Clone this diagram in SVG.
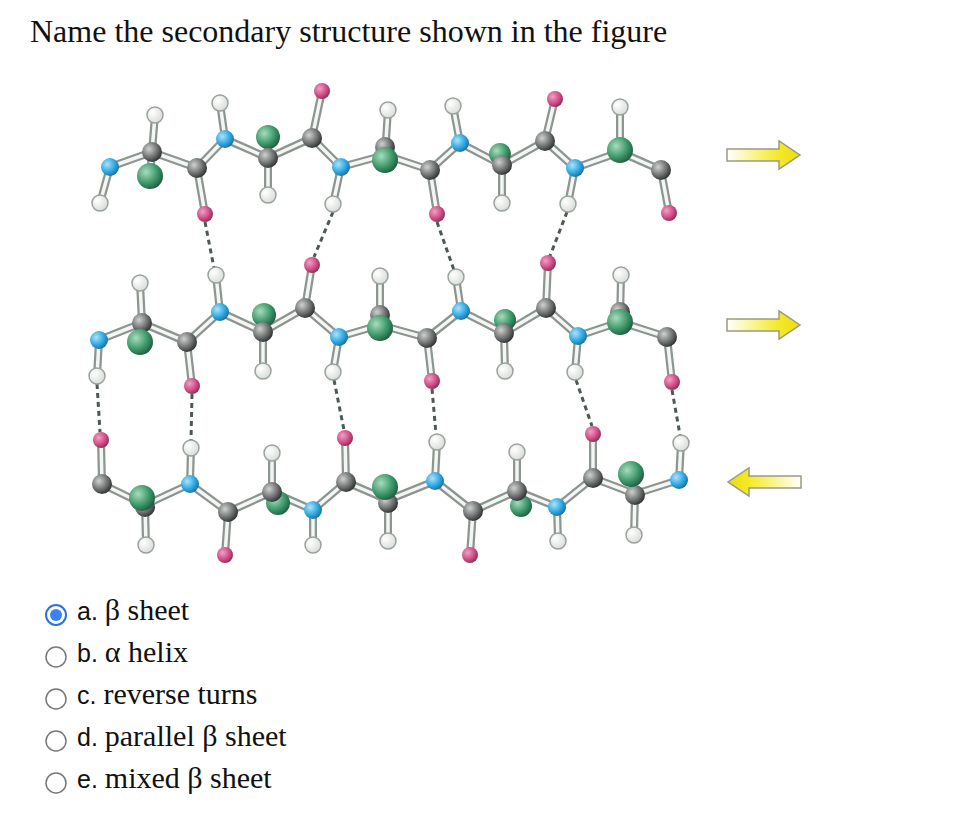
<svg xmlns="http://www.w3.org/2000/svg" width="978" height="822" viewBox="0 0 978 822">
<defs>
<radialGradient id="gH" cx="0.35" cy="0.35" r="0.7"><stop offset="0" stop-color="#fff"/><stop offset="1" stop-color="#d8dcd8"/></radialGradient>
<radialGradient id="gO" cx="0.35" cy="0.35" r="0.7"><stop offset="0" stop-color="#f2a0c4"/><stop offset="0.6" stop-color="#cf4f87"/><stop offset="1" stop-color="#8e2a58"/></radialGradient>
<radialGradient id="gN" cx="0.35" cy="0.35" r="0.7"><stop offset="0" stop-color="#a8e4ff"/><stop offset="0.6" stop-color="#31a8e0"/><stop offset="1" stop-color="#1a6f9e"/></radialGradient>
<radialGradient id="gC" cx="0.35" cy="0.35" r="0.7"><stop offset="0" stop-color="#d0d0d0"/><stop offset="0.6" stop-color="#6f7272"/><stop offset="1" stop-color="#2e3030"/></radialGradient>
<radialGradient id="gG" cx="0.35" cy="0.35" r="0.7"><stop offset="0" stop-color="#a8dcbc"/><stop offset="0.6" stop-color="#3f9a6c"/><stop offset="1" stop-color="#1f5e3e"/></radialGradient>
<linearGradient id="yR" x1="0" x2="1"><stop offset="0" stop-color="#fff"/><stop offset="0.7" stop-color="#f5ea2a"/><stop offset="1" stop-color="#eadc10"/></linearGradient>
<linearGradient id="yL" x1="1" x2="0"><stop offset="0" stop-color="#fff"/><stop offset="0.7" stop-color="#f5ea2a"/><stop offset="1" stop-color="#eadc10"/></linearGradient>
<path id="b1" d="M110,167 L152,152 L197,168 L225,139 L268,158 L312,138 L341,167 L385,155 L430,170 L460,143 L502,165 L545,141 L575,168 L620,152 L661,170 M110,167 L100,203 M152,152 L155,115 M152,152 L150,176 M197,168 L205,214 M225,139 L220,103 M268,158 L268,195 M268,158 L268,137 M312,138 L322,91 M341,167 L333,204 M385,155 L388,110 M430,170 L437,214 M460,143 L453,106 M502,165 L502,203 M545,141 L555,99 M575,168 L568,204 M620,152 L620,107 M661,170 L669,213"/>
<path id="b2" d="M99,340 L142,323 L187,342 L220,312 L263,332 L305,308 L339,337 L380,325 L427,338 L461,311 L504,333 L546,308 L578,336 L620,322 L667,337 M99,340 L97,376 M142,323 L140,283 M142,323 L140,342 M187,342 L192,386 M220,312 L216,275 M263,332 L263,371 M263,332 L264,315 M305,308 L312,265 M339,337 L333,372 M380,325 L380,276 M427,338 L432,381 M461,311 L456,277 M504,333 L505,371 M504,333 L505,320 M546,308 L548,263 M578,336 L575,372 M620,322 L621,275 M667,337 L672,382"/>
<path id="b3" d="M102,484 L145,505 L190,484 L228,512 L272,492 L313,510 L346,482 L388,500 L435,481 L473,511 L517,491 L557,507 L593,478 L635,494 L679,480 M102,484 L101,440 M145,505 L146,545 M190,484 L191,448 M228,512 L225,555 M272,492 L272,453 M272,492 L278,503 M313,510 L313,545 M346,482 L345,438 M388,500 L388,541 M435,481 L437,442 M473,511 L470,555 M517,491 L517,452 M517,491 L521,506 M557,507 L558,541 M593,478 L593,434 M635,494 L634,535 M679,480 L681,443"/>
</defs>
<style>
.bo{stroke:#8d9590;stroke-width:8;fill:none;stroke-linecap:round;stroke-linejoin:round}
.bi{stroke:#f4f6f4;stroke-width:3.5;fill:none;stroke-linecap:round;stroke-linejoin:round}
.hb{stroke:#4c5a52;stroke-width:3;stroke-dasharray:5 4;fill:none}
.H{fill:url(#gH);stroke:#9aa29c;stroke-width:1.5}
.O{fill:url(#gO)}
.N{fill:url(#gN)}
.C{fill:url(#gC)}
.G{fill:url(#gG)}
.t{font-family:"Liberation Serif",serif;fill:#111}
.s{font-family:"Liberation Sans",sans-serif}
.arr{stroke:#9a9a80;stroke-width:1.5}
</style>
<rect width="978" height="822" fill="#fff"/>
<text x="30" y="42" class="t" font-size="32">Name the secondary structure shown in the figure</text>

<g id="hbonds">
<path class="hb" d="M205,222 L214,268 M333,212 L314,257 M437,222 L454,270 M567,212 L550,256 M97,384 L100,432 M192,394 L191,440 M334,380 L344,430 M432,389 L436,434 M576,380 L592,426 M672,390 L680,435"/>
</g>

<g id="strand1">
<use href="#b1" class="bo"/>
<use href="#b1" class="bi"/>
<circle class="H" cx="100" cy="203" r="8"/><circle class="H" cx="155" cy="115" r="8"/><circle class="H" cx="220" cy="103" r="8"/><circle class="H" cx="268" cy="195" r="8"/><circle class="H" cx="333" cy="204" r="8"/><circle class="H" cx="388" cy="110" r="8"/><circle class="H" cx="453" cy="106" r="8"/><circle class="H" cx="502" cy="203" r="8"/><circle class="H" cx="568" cy="204" r="8"/><circle class="H" cx="620" cy="107" r="8"/>
<circle class="O" cx="205" cy="214" r="8"/><circle class="O" cx="322" cy="91" r="8"/><circle class="O" cx="437" cy="214" r="8"/><circle class="O" cx="555" cy="99" r="8"/><circle class="O" cx="669" cy="213" r="8"/>
<circle class="G" cx="268" cy="137" r="12"/><circle class="G" cx="500" cy="154" r="11"/><circle class="C" cx="385" cy="147" r="10"/>
<circle class="N" cx="110" cy="167" r="9"/><circle class="N" cx="225" cy="139" r="9"/><circle class="N" cx="341" cy="167" r="9"/><circle class="N" cx="460" cy="143" r="9"/><circle class="N" cx="575" cy="168" r="9"/>
<circle class="C" cx="152" cy="152" r="10"/><circle class="C" cx="197" cy="168" r="10"/><circle class="C" cx="268" cy="158" r="10"/><circle class="C" cx="312" cy="138" r="10"/><circle class="C" cx="430" cy="170" r="10"/><circle class="C" cx="502" cy="165" r="10"/><circle class="C" cx="545" cy="141" r="10"/><circle class="C" cx="661" cy="170" r="10"/>
<circle class="G" cx="150" cy="176" r="13"/><circle class="G" cx="385" cy="160" r="13"/><circle class="G" cx="620" cy="150" r="13"/>
</g>

<g id="strand2">
<use href="#b2" class="bo"/>
<use href="#b2" class="bi"/>
<circle class="H" cx="97" cy="376" r="8"/><circle class="H" cx="140" cy="283" r="8"/><circle class="H" cx="216" cy="275" r="8"/><circle class="H" cx="263" cy="371" r="8"/><circle class="H" cx="333" cy="372" r="8"/><circle class="H" cx="380" cy="276" r="8"/><circle class="H" cx="456" cy="277" r="8"/><circle class="H" cx="505" cy="371" r="8"/><circle class="H" cx="575" cy="372" r="8"/><circle class="H" cx="621" cy="275" r="8"/>
<circle class="O" cx="192" cy="386" r="8"/><circle class="O" cx="312" cy="265" r="8"/><circle class="O" cx="432" cy="381" r="8"/><circle class="O" cx="548" cy="263" r="8"/><circle class="O" cx="672" cy="382" r="8"/>
<circle class="G" cx="264" cy="315" r="12"/><circle class="G" cx="505" cy="320" r="11"/><circle class="C" cx="380" cy="315" r="10"/><circle class="C" cx="620" cy="312" r="10"/>
<circle class="N" cx="99" cy="340" r="9"/><circle class="N" cx="220" cy="312" r="9"/><circle class="N" cx="339" cy="337" r="9"/><circle class="N" cx="461" cy="311" r="9"/><circle class="N" cx="578" cy="336" r="9"/>
<circle class="C" cx="142" cy="323" r="10"/><circle class="C" cx="187" cy="342" r="10"/><circle class="C" cx="263" cy="332" r="10"/><circle class="C" cx="305" cy="308" r="10"/><circle class="C" cx="427" cy="338" r="10"/><circle class="C" cx="504" cy="333" r="10"/><circle class="C" cx="546" cy="308" r="10"/><circle class="C" cx="667" cy="337" r="10"/>
<circle class="G" cx="140" cy="342" r="13"/><circle class="G" cx="380" cy="328" r="13"/><circle class="G" cx="620" cy="322" r="13"/>
</g>

<g id="strand3">
<use href="#b3" class="bo"/>
<use href="#b3" class="bi"/>
<circle class="H" cx="146" cy="545" r="8"/><circle class="H" cx="191" cy="448" r="8"/><circle class="H" cx="272" cy="453" r="8"/><circle class="H" cx="313" cy="545" r="8"/><circle class="H" cx="388" cy="541" r="8"/><circle class="H" cx="437" cy="442" r="8"/><circle class="H" cx="517" cy="452" r="8"/><circle class="H" cx="558" cy="541" r="8"/><circle class="H" cx="634" cy="535" r="8"/><circle class="H" cx="681" cy="443" r="8"/>
<circle class="O" cx="101" cy="440" r="8"/><circle class="O" cx="225" cy="555" r="8"/><circle class="O" cx="345" cy="438" r="8"/><circle class="O" cx="470" cy="555" r="8"/><circle class="O" cx="593" cy="434" r="8"/>
<circle class="G" cx="278" cy="503" r="12"/><circle class="G" cx="521" cy="506" r="11"/>
<circle class="N" cx="190" cy="484" r="9"/><circle class="N" cx="313" cy="510" r="9"/><circle class="N" cx="435" cy="481" r="9"/><circle class="N" cx="557" cy="507" r="9"/><circle class="N" cx="679" cy="480" r="9"/>
<circle class="C" cx="102" cy="484" r="10"/><circle class="C" cx="145" cy="507" r="10"/><circle class="C" cx="228" cy="512" r="10"/><circle class="C" cx="272" cy="492" r="10"/><circle class="C" cx="346" cy="482" r="10"/><circle class="C" cx="388" cy="503" r="10"/><circle class="C" cx="473" cy="511" r="10"/><circle class="C" cx="517" cy="491" r="10"/><circle class="C" cx="593" cy="478" r="10"/><circle class="C" cx="635" cy="495" r="10"/>
<circle class="G" cx="142" cy="498" r="13"/><circle class="G" cx="385" cy="487" r="13"/><circle class="G" cx="631" cy="474" r="13"/>
</g>

<g id="arrows">
<path class="arr" fill="url(#yR)" d="M727,149 L779,149 L779,141 L800,155 L779,169 L779,161 L727,161 Z"/>
<path class="arr" fill="url(#yR)" d="M727,319 L779,319 L779,311 L800,325 L779,339 L779,331 L727,331 Z"/>
<path class="arr" fill="url(#yL)" d="M801,476 L749,476 L749,468 L728,482 L749,496 L749,488 L801,488 Z"/>
</g>

<g id="options">
<circle cx="56" cy="615" r="10" fill="#fff" stroke="#2f6fe0" stroke-width="2"/><circle cx="56" cy="615" r="6" fill="#3b82f6"/>
<circle cx="56" cy="657" r="10" fill="#fff" stroke="#777" stroke-width="1.5"/>
<circle cx="56" cy="699" r="10" fill="#fff" stroke="#777" stroke-width="1.5"/>
<circle cx="56" cy="741" r="10" fill="#fff" stroke="#777" stroke-width="1.5"/>
<circle cx="56" cy="783" r="10" fill="#fff" stroke="#777" stroke-width="1.5"/>
<text x="77" y="620" class="t" font-size="30"><tspan class="s" font-size="25">a. </tspan>β sheet</text>
<text x="77" y="662" class="t" font-size="30"><tspan class="s" font-size="25">b. </tspan>α helix</text>
<text x="77" y="704" class="t" font-size="30"><tspan class="s" font-size="25">c. </tspan>reverse turns</text>
<text x="77" y="746" class="t" font-size="30"><tspan class="s" font-size="25">d. </tspan>parallel β sheet</text>
<text x="77" y="788" class="t" font-size="30"><tspan class="s" font-size="25">e. </tspan>mixed β sheet</text>
</g>
</svg>
